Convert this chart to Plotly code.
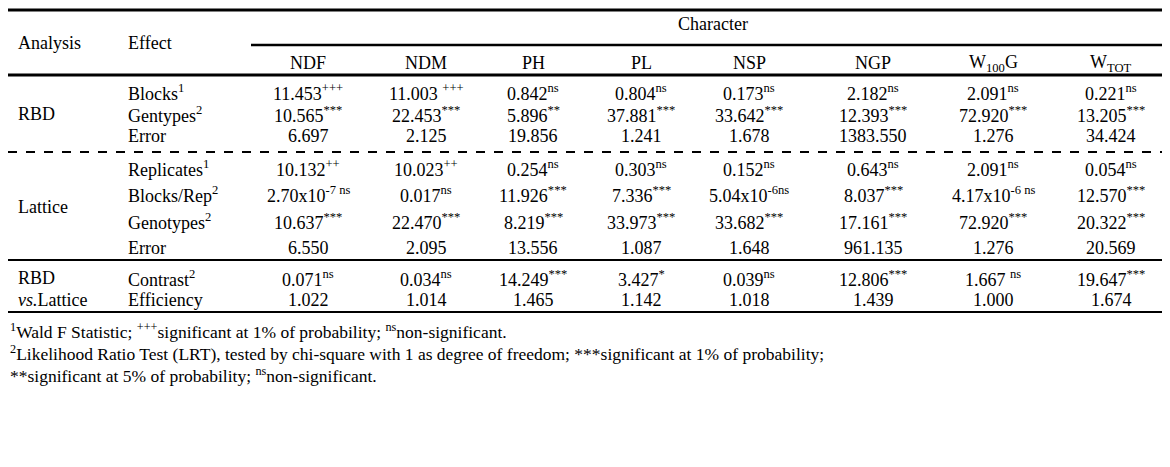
import plotly.graph_objects as go

characters = ["NDF", "NDM", "PH", "PL", "NSP", "NGP", "W<sub>100</sub>G", "W<sub>TOT</sub>"]
effects = ["Blocks<sup>1</sup>", "Gentypes<sup>2</sup>", "Error",
           "Replicates<sup>1</sup>", "Blocks/Rep<sup>2</sup>", "Genotypes<sup>2</sup>", "Error",
           "Contrast<sup>2</sup>", "Efficiency"]
values = [
    ["11.453", "11.003 ", "0.842", "0.804", "0.173", "2.182", "2.091", "0.221"],
    ["10.565", "22.453", "5.896", "37.881", "33.642", "12.393", "72.920", "13.205"],
    ["6.697", "2.125", "19.856", "1.241", "1.678", "1383.550", "1.276", "34.424"],
    ["10.132", "10.023", "0.254", "0.303", "0.152", "0.643", "2.091", "0.054"],
    ["2.70x10<sup>-7 </sup>", "0.017", "11.926", "7.336", "5.04x10<sup>-6</sup>", "8.037", "4.17x10<sup>-6 </sup>", "12.570"],
    ["10.637", "22.470", "8.219", "33.973", "33.682", "17.161", "72.920", "20.322"],
    ["6.550", "2.095", "13.556", "1.087", "1.648", "961.135", "1.276", "20.569"],
    ["0.071", "0.034", "14.249", "3.427", "0.039", "12.806", "1.667 ", "19.647"],
    ["1.022", "1.014", "1.465", "1.142", "1.018", "1.439", "1.000", "1.674"],
]
signif = [
    ["+++", "+++", "ns", "ns", "ns", "ns", "ns", "ns"],
    ["***", "***", "**", "***", "***", "***", "***", "***"],
    [""] * 8,
    ["++", "++", "ns", "ns", "ns", "ns", "ns", "ns"],
    ["ns", "ns", "***", "***", "ns", "***", "ns", "***"],
    ["***", "***", "***", "***", "***", "***", "***", "***"],
    [""] * 8,
    ["ns", "ns", "***", "*", "ns", "***", "ns", "***"],
    [""] * 8,
]
analyses = [("RBD", 106), ("Lattice", 199), ("RBD", 270), ("<i>vs.</i>Lattice", 292)]
footnotes = [
    "<sup>1</sup>Wald F Statistic; <sup>+++</sup>significant at 1% of probability; <sup>ns</sup>non-significant.",
    "<sup>2</sup>Likelihood Ratio Test (LRT), tested by chi-square with 1 as degree of freedom; ***significant at 1% of probability;",
    "**significant at 5% of probability; <sup>ns</sup>non-significant.",
]

FONT = "Times New Roman, Liberation Serif, DejaVu Serif, serif"
col_x = [300, 418, 525, 633, 741, 865, 985, 1103]
row_y = [84, 106, 128, 160, 186, 213, 240, 270, 292]

fig = go.Figure()
ann = []
def t(x, y, s, anchor="center", size=18):
    ann.append(dict(x=x, y=y, text=s, showarrow=False, xanchor=anchor, yanchor="middle",
                    xref="x", yref="y", font=dict(family=FONT, size=size, color="black")))

t(705, 16, "Character")
t(8, 35, "Analysis", "left")
t(118, 35, "Effect", "left")
for c, x in zip(characters, col_x):
    t(x, 55, c)
for i, (e, y) in enumerate(zip(effects, row_y)):
    t(118, y, e, "left")
    for j, x in enumerate(col_x):
        s = values[i][j]
        if signif[i][j]:
            s += "<sup>" + signif[i][j] + "</sup>"
        t(x, y, s)
for a, y in analyses:
    t(8, y, a, "left")
for k, f in enumerate(footnotes):
    t(0, 323 + k * 22, f, "left", 17.5)

shapes = []
def line(x0, x1, y, w, dash="solid"):
    shapes.append(dict(type="line", xref="x", yref="y", x0=x0, x1=x1, y0=y, y1=y,
                       line=dict(color="black", width=w, dash=dash)))
line(0, 1170, 2, 3)
line(243, 1168, 37, 2.5)
line(0, 1170, 67, 3)
line(0, 1170, 144, 2, "dash")
line(0, 1170, 252, 2)
line(0, 1170, 304, 2)

fig.update_layout(
    width=1170, height=467, margin=dict(l=0, r=0, t=0, b=0),
    plot_bgcolor="white", paper_bgcolor="white",
    xaxis=dict(range=[0, 1170], visible=False, fixedrange=True),
    yaxis=dict(range=[467, 0], visible=False, fixedrange=True),
    annotations=ann, shapes=shapes, showlegend=False,
)
fig.write_html("out.html")
